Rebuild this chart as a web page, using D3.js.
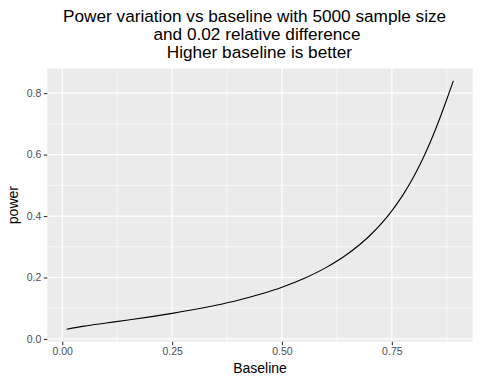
<!DOCTYPE html>
<html><head><meta charset="utf-8">
<script src="https://cdn.jsdelivr.net/npm/d3@7"></script>
<style>body{margin:0;background:#fff}svg{display:block}text{font-family:"Liberation Sans",Arial,sans-serif}</style>
</head><body>
<svg id="c" width="480" height="384"></svg>
<script>
const titleLines = ["Power variation vs baseline with 5000 sample size "," and 0.02 relative difference "," Higher baseline is better"];
const xLabel = "Baseline";
const yLabel = "power";
const baseline = [0.01,0.05,0.10,0.15,0.20,0.25,0.30,0.35,0.40,0.45,0.50,0.55,0.60,0.65,0.70,0.75,0.775,0.80,0.825,0.85,0.87,0.89];
const power    = [0.0314,0.0417,0.0517,0.0616,0.0719,0.0831,0.0956,0.1098,0.1261,0.1455,0.1685,0.1968,0.2321,0.2772,0.3366,0.4169,0.4680,0.5285,0.6002,0.6842,0.7598,0.8398];
const xTicks = [0,0.25,0.5,0.75];
const xTickLabels = ["0.00","0.25","0.50","0.75"];
const yTicks = [0,0.2,0.4,0.6,0.8];
const yTickLabels = ["0.0","0.2","0.4","0.6","0.8"];
const xMinor = [0.125,0.375,0.625,0.875];
const yMinor = [0.1,0.3,0.5,0.7];

const svg = d3.select("#c");
const L=47.3,R=472.7,T=68.5,B=341.7;
const xr=d3.extent(baseline), yr=d3.extent(power);
const xe=(xr[1]-xr[0])*0.05, ye=(yr[1]-yr[0])*0.05;
const x=d3.scaleLinear().domain([xr[0]-xe,xr[1]+xe]).range([L,R]);
const y=d3.scaleLinear().domain([yr[0]-ye,yr[1]+ye]).range([B,T]);

svg.append("rect").attr("x",L).attr("y",T).attr("width",R-L).attr("height",B-T).attr("fill","#EBEBEB");
const g=svg.append("g");
g.selectAll(".xm").data(xMinor).join("line").attr("x1",d=>x(d)).attr("x2",d=>x(d)).attr("y1",T).attr("y2",B).attr("stroke","#fff").attr("stroke-width",0.6);
g.selectAll(".ym").data(yMinor).join("line").attr("y1",d=>y(d)).attr("y2",d=>y(d)).attr("x1",L).attr("x2",R).attr("stroke","#fff").attr("stroke-width",0.6);
g.selectAll(".xM").data(xTicks).join("line").attr("x1",d=>x(d)).attr("x2",d=>x(d)).attr("y1",T).attr("y2",B).attr("stroke","#fff").attr("stroke-width",1.2);
g.selectAll(".yM").data(yTicks).join("line").attr("y1",d=>y(d)).attr("y2",d=>y(d)).attr("x1",L).attr("x2",R).attr("stroke","#fff").attr("stroke-width",1.2);

const line=d3.line().x((d,i)=>x(baseline[i])).y(d=>y(d)).curve(d3.curveMonotoneX);
svg.append("path").datum(power).attr("d",line).attr("fill","none").attr("stroke","#000").attr("stroke-width",1.1);

const xa=d3.axisBottom(x).tickValues(xTicks).tickFormat((d,i)=>xTickLabels[i]).tickSize(3.5).tickPadding(2.5);
const ya=d3.axisLeft(y).tickValues(yTicks).tickFormat((d,i)=>yTickLabels[i]).tickSize(3.5).tickPadding(2.5);
const gx=svg.append("g").attr("transform",`translate(0,${B})`).call(xa);
const gy=svg.append("g").attr("transform",`translate(${L},0)`).call(ya);
[gx,gy].forEach(a=>{a.select(".domain").remove();a.selectAll(".tick line").attr("stroke","#333").attr("stroke-width",1.1);
 a.selectAll(".tick text").attr("fill","#4D4D4D").style("font-size","10.5px");});

svg.append("text").attr("x",(L+R)/2).attr("y",373).attr("text-anchor","middle").style("font-size","14px").attr("fill","#000").text(xLabel);
svg.append("text").attr("transform",`translate(17.5,${(T+B)/2}) rotate(-90)`).attr("text-anchor","middle").style("font-size","14px").attr("fill","#000").text(yLabel);
svg.selectAll(".title").data(titleLines).join("text").attr("x",257).attr("y",(d,i)=>22+i*18).attr("text-anchor","middle").style("font-size","17.2px").style("white-space","pre").attr("xml:space","preserve").attr("fill","#000").text(d=>d);
</script>
</body></html>
